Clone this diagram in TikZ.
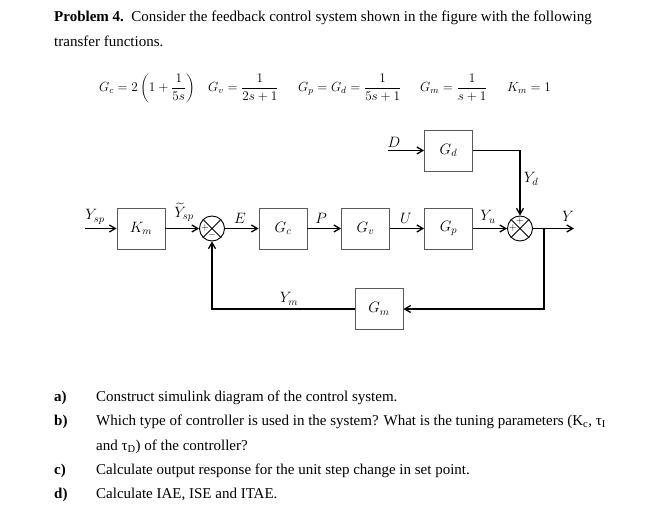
\RequirePackage{fix-cm}
\documentclass[tikz,border=0pt]{standalone}
\usepackage{amsmath}
\usepackage{fontspec}
\setmainfont{Liberation Serif}
\usetikzlibrary{arrows.meta}
\tikzset{
  blk/.style={draw=black!65, line width=0.8pt, minimum width=48pt, minimum height=41pt, font=\fontsize{15}{18}\selectfont},
  sumj/.style={circle, draw, line width=0.9pt, minimum size=25pt, inner sep=0pt},
  sgn/.style={inner sep=0pt, font=\fontsize{10}{12}\selectfont},
  sig/.style={line width=1.3pt, -{Straight Barb[length=6pt,width=7pt]}},
  lbl/.style={font=\fontsize{15}{18}\selectfont},
  eqn/.style={anchor=west, inner sep=0pt, font=\fontsize{13.2}{16}\selectfont},
  txt/.style={anchor=base west, inner sep=0pt, font=\fontsize{15}{18}\selectfont},
}
\begin{document}
\begin{tikzpicture}[x=1pt,y=-1pt]
\useasboundingbox (0,0) rectangle (645,518);
% statement
\node[txt] (head) at (54,22) {\textbf{Problem 4.}\ \ Consider the feedback control system shown in the figure with the following};
\node[txt] (head2) at (54,47) {transfer functions.};
% transfer functions
\node[eqn] (eqc) at (99,88) {$G_c = 2\left(1+\dfrac{1}{5s}\right)$};
\node[eqn] (eqv) at (208,88) {$G_v = \dfrac{1}{2s+1}$};
\node[eqn] (eqp) at (298,88) {$G_p = G_d = \dfrac{1}{5s+1}$};
\node[eqn] (eqm) at (420,88) {$G_m = \dfrac{1}{s+1}$};
\node[eqn] (eqk) at (507,88) {$K_m = 1$};
% blocks
\node[blk] (km) at (141,228.5) {$K_m$};
\node[blk] (gc) at (283,228.5) {$G_c$};
\node[blk] (gv) at (365.5,228.5) {$G_v$};
\node[blk] (gp) at (448.5,228.5) {$G_p$};
\node[blk] (gd) at (448.5,150.5) {$G_d$};
\node[blk] (gm) at (379,309) {$G_m$};
\node[sumj] (s1) at (212,228.5) {};
\node[sumj] (s2) at (520,228.5) {};
\draw[line width=0.9pt] (s1.north west) -- (s1.south east) (s1.north east) -- (s1.south west);
\draw[line width=0.9pt] (s2.north west) -- (s2.south east) (s2.north east) -- (s2.south west);
\node[sgn] (s1a) at ([xshift=-7pt]s1.center) {$+$};
\node[sgn] (s1b) at ([yshift=-7pt]s1.center) {$-$};
\node[sgn] (s2a) at ([xshift=-7pt]s2.center) {$+$};
\node[sgn] (s2b) at ([yshift=7pt]s2.center) {$+$};
\coordinate (in) at (85,228.5);
\coordinate (dist) at (388,150.5);
\coordinate (out) at (574,228.5);
\coordinate (br) at (544,228.5);
% connections
\draw[sig] (in) -- (km.west);
\draw[sig] (km.east) -- (s1.west);
\draw[sig] (s1.east) -- (gc.west);
\draw[sig] (gc.east) -- (gv.west);
\draw[sig] (gv.east) -- (gp.west);
\draw[sig] (gp.east) -- (s2.west);
\draw[sig] (dist) -- (gd.west);
\draw[sig] (gd.east) -| (s2.north);
\draw[sig] (s2.east) -- (out);
\draw[sig] (br) |- (gm.east);
\draw[sig] (gm.west) -| (s1.south);
% signal labels
\node[lbl] (lysp) at (95,217) {$Y_{sp}$};
\node[lbl, inner sep=0pt] (lytsp) at (184,212) {$\widetilde{Y}_{sp}$};
\node[lbl] (le) at (240,218) {$E$};
\node[lbl] (lp) at (321,218) {$P$};
\node[lbl] (lu) at (406,218) {$U$};
\node[lbl] (lyu) at (488,217) {$Y_u$};
\node[lbl] (ly) at (568,216) {$Y$};
\node[lbl] (lyd) at (531,179) {$Y_d$};
\node[lbl] (ld) at (394,142) {$D$};
\node[lbl] (lym) at (289,299) {$Y_m$};
% questions
\node[txt] (qa) at (54,401) {\textbf{a)}};
\node[txt] (qat) at (96,401) {Construct simulink diagram of the control system.};
\node[txt] (qb) at (54,425) {\textbf{b)}};
\node[txt] (qbt) at (96,425) {Which type of controller is used in the system? What is the tuning parameters (K\textsubscript{c}, τ\textsubscript{I}};
\node[txt] (qbt2) at (96,450) {and τ\textsubscript{D}) of the controller?};
\node[txt] (qc) at (54,474) {\textbf{c)}};
\node[txt] (qct) at (96,474) {Calculate output response for the unit step change in set point.};
\node[txt] (qd) at (54,498) {\textbf{d)}};
\node[txt] (qdt) at (96,498) {Calculate IAE, ISE and ITAE.};
\end{tikzpicture}
\end{document}
